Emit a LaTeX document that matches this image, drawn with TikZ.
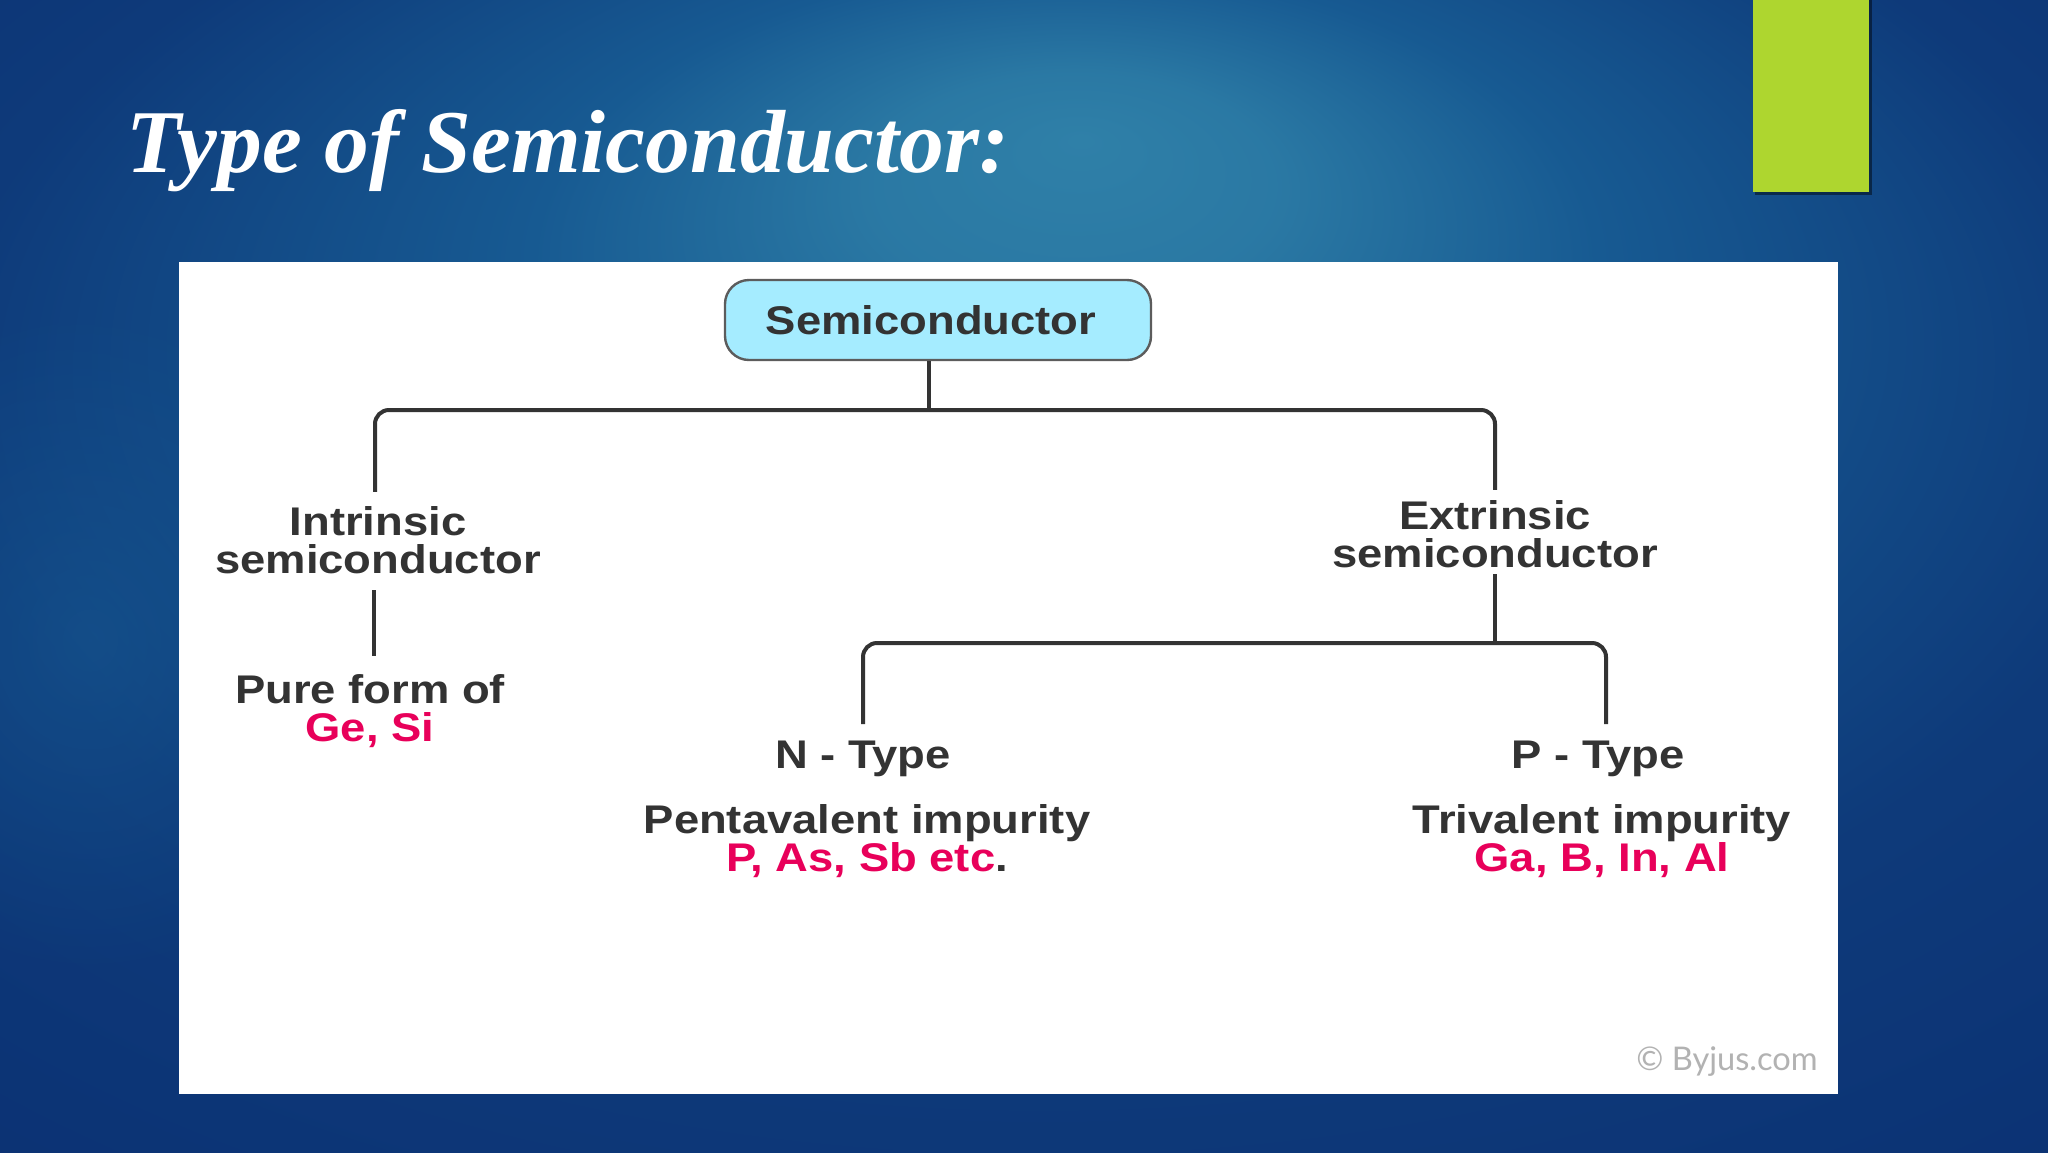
\documentclass[tikz,border=0pt]{standalone}
\usepackage{fontspec}
\usepackage{tikz}
\usetikzlibrary{positioning,fadings}
\setmainfont{Liberation Sans}
\newfontfamily\chartfont[FakeStretch=1.135]{Liberation Sans}
\newfontfamily\titlefont{Liberation Serif}
\newfontfamily\markfont{Lato}
\definecolor{inkgrey}{HTML}{333333}
\definecolor{dopered}{HTML}{E8005A}
\definecolor{rootblue}{HTML}{A5ECFF}
\definecolor{tabgreen}{HTML}{AED62F}
\definecolor{slidedark}{HTML}{0A2D70}
\definecolor{slidemid}{HTML}{175A92}
\definecolor{slideglow}{HTML}{2F80A8}
\pgfdeclareradialshading{slidebg}{\pgfpoint{1.4bp}{19bp}}{
	color(0bp)=(slideglow);
	color(5bp)=(slideglow!80!slidemid);
	color(13bp)=(slidemid);
	color(27bp)=(slidemid!30!slidedark);
	color(45bp)=(slidedark)}
\tikzfading[name=haze,inner color=transparent!45,outer color=transparent!100]
\tikzset{
	chart/.style={font=\chartfont\bfseries\fontsize{20}{19}\selectfont,text=inkgrey,align=center,inner xsep=0pt,inner ysep=5pt},
	link/.style={draw=inkgrey,line width=2pt,rounded corners=7pt}
}
\begin{document}
\begin{tikzpicture}[x=0.5pt,y=-0.5pt,node distance=40pt,on grid]
	\useasboundingbox (0,0) rectangle (2048,1152);
	\shade[shading=slidebg] (0,0) rectangle (2048,1152);
	\fill[slidemid,path fading=haze] (90,640) ellipse [x radius=300,y radius=340];
	\fill[black,opacity=.45] (1755,0) rectangle (1872,195);
	\fill[tabgreen] (1753,0) rectangle (1869,192);
	\fill[white] (179,262) rectangle (1838,1094);

	\node[text=white,anchor=base west,inner sep=0pt,font=\titlefont\bfseries\itshape\fontsize{44.8}{50}\selectfont] (heading) at (126,172) {Type of Semiconductor:};

	\node[chart,draw=inkgrey!80,line width=1.2pt,fill=rootblue,rounded corners=12pt,minimum width=213pt,minimum height=40pt] (root) at (938,320) {Semiconductor\hspace{7pt}};
	\coordinate (rootbar) at (929,410);

	\node[chart] (intrinsic) at (378,540) {Intrinsic\\semiconductor};
	\node[chart] (extrinsic) at (1495,534) {Extrinsic\\semiconductor};
	\node[chart] (pure) [below=85.6pt of intrinsic,xshift=-4pt] {Pure form of\\{\color{dopered}Ge, Si}};
	\coordinate (extbar) at (1495,643);

	\node[chart] (ntype) at (863,759) {N - Type};
	\node[chart] (ptype) at (1598,759) {P - Type};
	\node[chart] (penta) [below=41pt of ntype,xshift=2pt] {Pentavalent impurity\\{\color{dopered}P, As, Sb etc}.};
	\node[chart] (tri) [below=41pt of ptype,xshift=2pt] {Trivalent impurity\\{\color{dopered}Ga, B, In, Al}};

	\node[text=black!30,font=\markfont\fontsize{16.3}{18}\selectfont,inner sep=0pt] (mark) at (1727,1062) {© Byjus.com};

	\draw[link] (root.south -| rootbar) -- (rootbar);
	\draw[link] ([xshift=-1.5pt,yshift=2pt]intrinsic.north) |- (rootbar) -| (extrinsic.north);
	\draw[link] ([xshift=-2.25pt,yshift=-3pt]intrinsic.south) -- ([xshift=1.75pt,yshift=4pt]pure.north);
	\draw[link] ([yshift=2pt]extrinsic.south) -- (extbar);
	\draw[link] ([yshift=3.3pt]ntype.north) |- (extbar) -| ([xshift=4pt,yshift=3.3pt]ptype.north);
\end{tikzpicture}
\end{document}
